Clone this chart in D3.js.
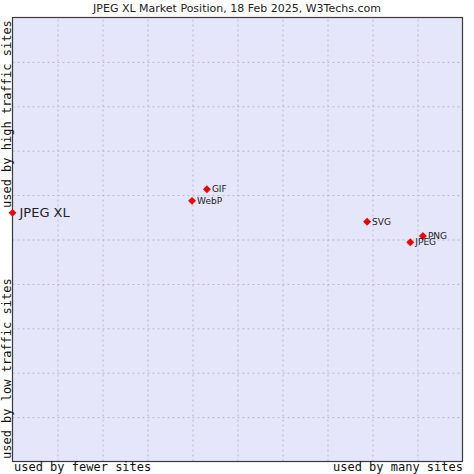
<!DOCTYPE html>
<html>
<head>
<meta charset="utf-8">
<script src="https://cdn.jsdelivr.net/npm/d3@7"></script>
<style>
  html, body { margin: 0; padding: 0; background: #ffffff; }
  svg { display: block; }
</style>
</head>
<body>
<svg id="chart" width="474" height="474"></svg>
<script>
const names = ['JPEG XL', 'GIF', 'WebP', 'SVG', 'PNG', 'JPEG'];
const siteShare = [0, 43.2, 39.9, 78.8, 91.2, 88.4];
const trafficRank = [56.0, 61.3, 58.7, 54.0, 50.8, 49.4];
const gridTicks = [10, 20, 30, 40, 50, 60, 70, 80, 90];
const title = 'JPEG XL Market Position, 18 Feb 2025, W3Techs.com';

const LEFT = 12.5;
const RIGHT = 462.5;
const TOP = 17.5;
const BOTTOM = 461.5;
const W = RIGHT - LEFT;
const H = BOTTOM - TOP;

const root = d3.select('#chart');

const x = d3.scaleLinear().domain([0, 100]).range([0, W]);
const y = d3.scaleLinear().domain([0, 100]).range([H, 0]);

root.append('text')
  .attr('x', 237)
  .attr('y', 12)
  .attr('text-anchor', 'middle')
  .attr('fill', '#222222')
  .attr('font-size', 11)
  .attr('font-family', 'DejaVu Sans, sans-serif')
  .text(title);

const plot = root.append('g')
  .attr('transform', `translate(${LEFT}, ${TOP})`);

plot.append('rect')
  .attr('width', W)
  .attr('height', H)
  .attr('fill', '#e6e6fa');

const xGrid = plot.append('g')
  .attr('transform', `translate(0, ${H})`)
  .call(d3.axisBottom(x).tickValues(gridTicks).tickSize(-H).tickFormat(''));
const yGrid = plot.append('g')
  .call(d3.axisLeft(y).tickValues(gridTicks).tickSize(-W).tickFormat(''));

[xGrid, yGrid].forEach((g) => {
  g.select('.domain').remove();
  g.selectAll('.tick line')
    .attr('stroke', '#b8b8c8')
    .attr('stroke-width', 1)
    .attr('stroke-dasharray', '2,3');
});

plot.append('rect')
  .attr('width', W)
  .attr('height', H)
  .attr('fill', 'none')
  .attr('stroke', '#3a3a3a')
  .attr('stroke-width', 1.2);

const points = names.map((name, i) => ({ name, sx: siteShare[i], ty: trafficRank[i] }));

const diamond = d3.symbol().type(d3.symbolDiamond2).size(40);

plot.selectAll('path.pt')
  .data(points)
  .join('path')
  .attr('class', 'pt')
  .attr('d', diamond)
  .attr('transform', (d) => `translate(${x(d.sx)}, ${y(d.ty)})`)
  .attr('fill', '#e8060c');

plot.selectAll('text.lbl')
  .data(points)
  .join('text')
  .attr('class', 'lbl')
  .attr('x', (d) => x(d.sx) + (d.name === 'JPEG XL' ? 7 : 5))
  .attr('y', (d) => y(d.ty))
  .attr('dominant-baseline', 'central')
  .attr('fill', '#222222')
  .attr('font-size', (d) => (d.name === 'JPEG XL' ? 13 : 9))
  .attr('font-family', 'DejaVu Sans, sans-serif')
  .text((d) => d.name);

const mono = 'DejaVu Sans Mono, monospace';

root.append('text')
  .attr('x', 14)
  .attr('y', 471)
  .attr('fill', '#111111')
  .attr('font-size', 12)
  .attr('font-family', mono)
  .text('used by fewer sites');

root.append('text')
  .attr('x', 463)
  .attr('y', 471)
  .attr('text-anchor', 'end')
  .attr('fill', '#111111')
  .attr('font-size', 12)
  .attr('font-family', mono)
  .text('used by many sites');

root.append('text')
  .attr('transform', 'translate(11, 459) rotate(-90)')
  .attr('fill', '#111111')
  .attr('font-size', 12)
  .attr('font-family', mono)
  .text('used by low traffic sites');

root.append('text')
  .attr('transform', 'translate(11, 208) rotate(-90)')
  .attr('fill', '#111111')
  .attr('font-size', 12)
  .attr('font-family', mono)
  .text('used by high traffic sites');
</script>
</body>
</html>
